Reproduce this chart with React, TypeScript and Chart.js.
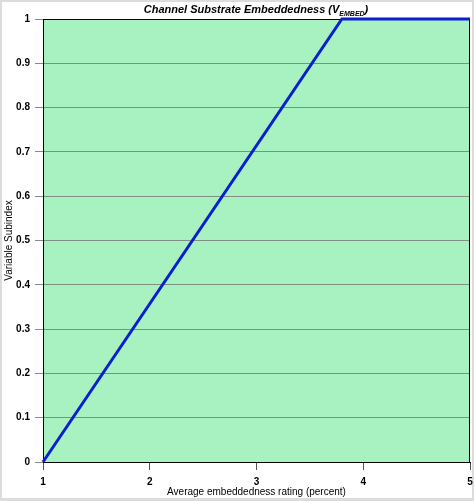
import React, { useEffect, useRef } from "react";
import { Chart, registerables } from "chart.js";

Chart.register(...registerables);

// embeddedness rating -> subindex
const ratings = [1, 3.8, 5];
const subindex = [0, 1, 1];
const titleMain = "Channel Substrate Embeddedness (V";
const titleSub = "EMBED";
const xTitle = "Average embeddedness rating (percent)";
const yTitle = "Variable Subindex";

const W = 474;
const H = 501;

const framePlugin = {
    id: "frame",
    beforeDraw(chart: any) {
        const { ctx, chartArea } = chart;
        ctx.save();
        ctx.fillStyle = "#dcdcdc";
        ctx.fillRect(0, 0, W, H);
        ctx.fillStyle = "#ffffff";
        ctx.fillRect(2, 2, W - 4, H - 5);
        ctx.fillStyle = "#a8f2c2";
        ctx.fillRect(chartArea.left, chartArea.top, chartArea.right - chartArea.left, chartArea.bottom - chartArea.top);
        ctx.restore();
    },
    beforeDatasetsDraw(chart: any) {
        const { ctx, chartArea } = chart;
        ctx.save();
        ctx.strokeStyle = "#000000";
        ctx.lineWidth = 1;
        ctx.strokeRect(chartArea.left + 0.5, chartArea.top + 0.5, chartArea.right - chartArea.left - 1, chartArea.bottom - chartArea.top);
        ctx.restore();
    },
    afterDraw(chart: any) {
        const { ctx } = chart;
        ctx.save();
        ctx.fillStyle = "#000000";
        ctx.textBaseline = "alphabetic";
        ctx.font = "italic bold 11px 'Liberation Sans', Arial";
        const w1 = ctx.measureText(titleMain).width;
        ctx.font = "italic bold 7px 'Liberation Sans', Arial";
        const w2 = ctx.measureText(titleSub).width;
        ctx.font = "italic bold 11px 'Liberation Sans', Arial";
        const w3 = ctx.measureText(")").width;
        let x = 256 - (w1 + w2 + w3) / 2;
        ctx.fillText(titleMain, x, 13);
        x += w1;
        ctx.font = "italic bold 7px 'Liberation Sans', Arial";
        ctx.fillText(titleSub, x, 16);
        x += w2;
        ctx.font = "italic bold 11px 'Liberation Sans', Arial";
        ctx.fillText(")", x, 13);
        ctx.restore();
    },
};

const App = () => {
    const canvasRef = useRef<HTMLCanvasElement | null>(null);

    useEffect(() => {
        document.body.style.margin = "0";
        const ctx = canvasRef.current?.getContext("2d");
        if (!ctx) return;
        const chart = new Chart(ctx, {
            type: "line",
            data: {
                datasets: [
                    {
                        data: ratings.map((r, i) => ({ x: r, y: subindex[i] })),
                        borderColor: "#0a1fd0",
                        borderWidth: 3,
                        pointRadius: 0,
                        fill: false,
                        tension: 0,
                    },
                ],
            },
            options: {
                animation: false,
                responsive: false,
                devicePixelRatio: 1,
                clip: false,
                layout: { padding: { top: 19, right: 4, left: 0, bottom: 0 } },
                plugins: { legend: { display: false }, title: { display: false }, tooltip: { enabled: false } },
                scales: {
                    x: {
                        type: "linear",
                        min: 1,
                        max: 5,
                        afterFit: (s: any) => {
                            s.height = 39;
                            s.paddingLeft = 0;
                            s.paddingRight = 0;
                        },
                        ticks: {
                            stepSize: 1,
                            color: "#000000",
                            padding: 6,
                            maxRotation: 0,
                            font: { family: "'Liberation Sans', Arial", size: 10, weight: "bold" },
                        },
                        grid: { drawOnChartArea: false, drawTicks: true, tickLength: 8, color: "#555555" },
                        border: { display: true, color: "#000000" },
                        title: {
                            display: true,
                            text: xTitle,
                            color: "#000000",
                            padding: { top: 0, bottom: 3 },
                            font: { family: "'Liberation Sans', Arial", size: 10 },
                        },
                    },
                    y: {
                        min: 0,
                        max: 1,
                        afterFit: (s: any) => {
                            s.width = 43;
                            s.paddingTop = 0;
                            s.paddingBottom = 0;
                        },
                        ticks: {
                            stepSize: 0.1,
                            color: "#000000",
                            padding: 5,
                            callback: (v: any) => String(Math.round(Number(v) * 10) / 10),
                            font: { family: "'Liberation Sans', Arial", size: 10, weight: "bold" },
                        },
                        grid: { color: "#7f8f85", tickLength: 8 },
                        border: { display: true, color: "#000000" },
                        title: {
                            display: true,
                            text: yTitle,
                            color: "#000000",
                            padding: { top: 3, bottom: 0 },
                            font: { family: "'Liberation Sans', Arial", size: 10 },
                        },
                    },
                },
            },
            plugins: [framePlugin],
        });
        return () => {
            chart.destroy();
        };
    }, []);

    return (
        <div style={{ width: W, height: H }}>
            <canvas ref={canvasRef} width={W} height={H} style={{ width: W, height: H, display: "block" }} />
        </div>
    );
};

export default App;
